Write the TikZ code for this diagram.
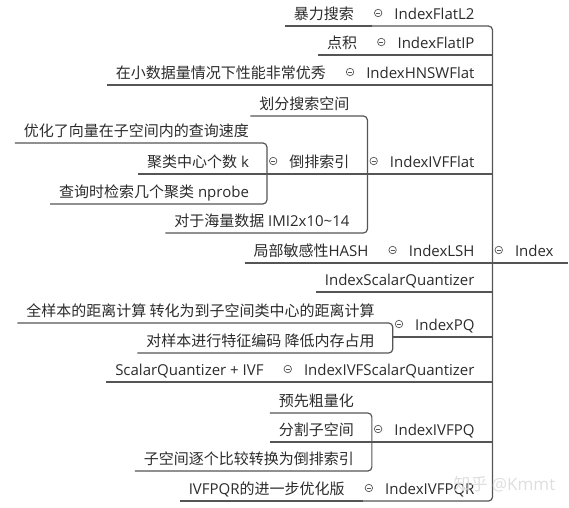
\documentclass[tikz,border=0pt]{standalone}
\usepackage{fontspec}
\setmainfont{Open Sans}
\newfontfamily\zh{Noto Sans CJK SC}
\usetikzlibrary{positioning}
\definecolor{ink}{HTML}{2B2B2B}
\definecolor{wire}{HTML}{555555}

\begin{document}
\begin{tikzpicture}[x=1pt, y=-1pt,
	every node/.style = {text=ink, font=\fontsize{15}{18}\selectfont},
	topic/.style = {inner xsep=9pt, inner ysep=0pt, outer sep=0pt,
		text height=19.5pt, text depth=6.5pt},
	kid/.style = {topic, anchor=south east, xshift=-9pt},
	fold/.style = {circle, draw=wire, line width=0.7pt, minimum size=7.5pt,
		inner sep=0pt, outer sep=2.5pt,
		path picture={\draw[wire, line width=0.7pt]
			([xshift=-2pt]path picture bounding box.center) --
			([xshift=2pt]path picture bounding box.center);}},
	link/.style = {draw=wire, line width=1.2pt, rounded corners=4pt}]
	\useasboundingbox (0,0) rectangle (569,507);

	\node[topic, anchor=south west] (idx) at (506,263) {Index};
	\node[fold, left=1pt of idx] (o-idx) {};

	\node[kid] (flatl2) at (o-idx.west |- 0,26) {IndexFlatL2};
	\node[fold, left=1pt of flatl2] (o-flatl2) {};
	\node[kid] (brute) at (o-flatl2.west |- flatl2.south) {\zh 暴力搜索};

	\node[kid] (flatip) at (o-idx.west |- 0,55) {IndexFlatIP};
	\node[fold, left=1pt of flatip] (o-flatip) {};
	\node[kid] (inner) at (o-flatip.west |- flatip.south) {\zh 点积};

	\node[kid] (hnsw) at (o-idx.west |- 0,85) {IndexHNSWFlat};
	\node[fold, left=1pt of hnsw] (o-hnsw) {};
	\node[kid] (small) at (o-hnsw.west |- hnsw.south) {\zh 在小数据量情况下性能非常优秀};

	\node[kid] (ivfflat) at (o-idx.west |- 0,174) {IndexIVFFlat};
	\node[fold, left=1pt of ivfflat] (o-ivfflat) {};
	\node[kid] (split) at (o-ivfflat.west |- 0,116) {\zh 划分搜索空间};
	\node[kid] (inv) at (o-ivfflat.west |- ivfflat.south) {\zh 倒排索引};
	\node[fold, left=1pt of inv] (o-inv) {};
	\node[kid] (speed) at (o-inv.west |- 0,143) {\zh 优化了向量在子空间内的查询速度};
	\node[kid] (kc) at (o-inv.west |- inv.south) {{\zh 聚类中心个数} k};
	\node[kid] (nprobe) at (o-inv.west |- 0,204) {{\zh 查询时检索几个聚类} nprobe};
	\node[kid] (imi) at (o-ivfflat.west |- 0,233) {{\zh 对于海量数据} IMI2x10\textasciitilde14};

	\node[kid] (lsh) at (o-idx.west |- idx.south) {IndexLSH};
	\node[fold, left=1pt of lsh] (o-lsh) {};
	\node[kid] (hash) at (o-lsh.west |- lsh.south) {{\zh 局部敏感性}HASH};

	\node[kid] (sq) at (o-idx.west |- 0,292) {IndexScalarQuantizer};

	\node[kid] (pq) at (o-idx.west |- 0,337) {IndexPQ};
	\node[fold, left=1pt of pq] (o-pq) {};
	\node[kid] (dist) at (o-pq.west |- 0,323) {\zh 全样本的距离计算 转化为到子空间类中心的距离计算};
	\node[kid] (code) at (o-pq.west |- 0,353) {\zh 对样本进行特征编码 降低内存占用};

	\node[kid] (ivfsq) at (o-idx.west |- 0,382) {IndexIVFScalarQuantizer};
	\node[fold, left=1pt of ivfsq] (o-ivfsq) {};
	\node[kid] (sqivf) at (o-ivfsq.west |- ivfsq.south) {ScalarQuantizer + IVF};

	\node[kid] (ivfpq) at (o-idx.west |- 0,442) {IndexIVFPQ};
	\node[fold, left=1pt of ivfpq] (o-ivfpq) {};
	\node[kid] (coarse) at (o-ivfpq.west |- 0,413) {\zh 预先粗量化};
	\node[kid] (sub) at (o-ivfpq.west |- ivfpq.south) {\zh 分割子空间};
	\node[kid] (cmp) at (o-ivfpq.west |- 0,471) {\zh 子空间逐个比较转换为倒排索引};

	\node[kid] (ivfpqr) at (o-idx.west |- 0,501) {IndexIVFPQR};
	\node[fold, left=1pt of ivfpqr] (o-ivfpqr) {};
	\node[kid] (refine) at (o-ivfpqr.west |- ivfpqr.south) {IVFPQR{\zh 的进一步优化版}};

	% brackets
	\draw[link] (o-idx.west |- idx.south) -- ([xshift=5pt]idx.south east);
	\draw[link] (o-flatl2.west |- flatl2.south) -| (o-idx.west |- ivfpqr.south)
		-- (o-ivfpqr.west |- ivfpqr.south);
	\draw[link] (split.south west) -| (o-ivfflat.west |- imi.south) -- (imi.south west);
	\draw[link] (speed.south west) -| (o-inv.west |- nprobe.south) -- (nprobe.south west);
	\draw[link] (dist.south west) -| (o-pq.west |- code.south) -- (code.south west);
	\draw[link] (coarse.south west) -| (o-ivfpq.west |- cmp.south) -- (cmp.south west);

	\foreach \n in {flatip, hnsw, ivfflat, lsh, pq, ivfsq, ivfpq}
		\draw[link] (o-\n.west |- \n.south) -- (o-idx.west |- \n.south);
	\draw[link] (sq.south west) -- (o-idx.west |- sq.south);
	\draw[link] (o-inv.west |- inv.south) -- (o-ivfflat.west |- inv.south);
	\foreach \n/\p in {brute/flatl2, inner/flatip, small/hnsw, kc/inv, hash/lsh,
		sqivf/ivfsq, sub/ivfpq, refine/ivfpqr}
		\draw[link] (\n.south west) -- (o-\p.west |- \n.south);

	\node[text=black!13, font=\fontsize{17}{20}\selectfont, anchor=west] (mark) at (450,484)
		{{\zh 知乎} @Kmmt};
\end{tikzpicture}
\end{document}
